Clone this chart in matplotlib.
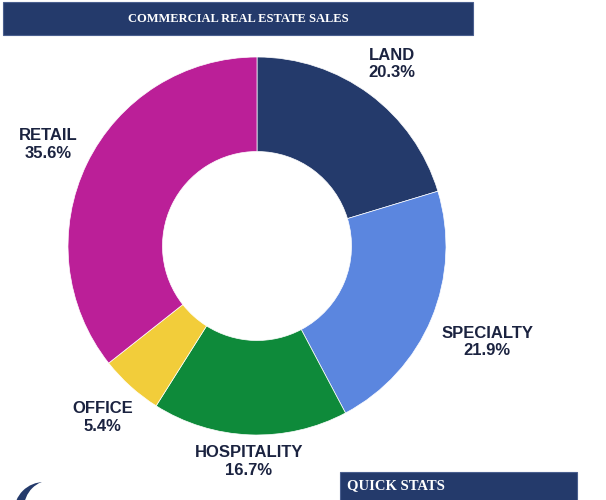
import numpy as np
import matplotlib
matplotlib.use("Agg")
import matplotlib.pyplot as plt
from matplotlib.patches import Rectangle, Circle

categories = ["LAND", "SPECIALTY", "HOSPITALITY", "OFFICE", "RETAIL"]
shares = [20.3, 21.9, 16.7, 5.4, 35.6]
colors = ["#243A6B", "#5B86DF", "#0E8A3A", "#F2CD3A", "#BB1F98"]
label_dist = [1.20, 1.32, 1.14, 1.22, 1.23]

title = "COMMERCIAL REAL ESTATE SALES"
footer = "QUICK STATS"
navy = "#243A6B"
label_color = "#1B2340"

W, H = 606, 500
fig = plt.figure(figsize=(W / 100, H / 100), dpi=100)
fig.patch.set_facecolor("white")

# overlay axes in pixel coordinates
ov = fig.add_axes([0, 0, 1, 1])
ov.set_xlim(0, W)
ov.set_ylim(H, 0)
ov.axis("off")

# title banner
ov.add_patch(Rectangle((3, 2), 470, 33, facecolor=navy, edgecolor="#4A5F8F", linewidth=0.8, zorder=2))
ov.text(238, 19, title, color="white", fontsize=9, fontweight="bold",
        family="Liberation Serif", ha="center", va="center", zorder=3)

# quick stats box
ov.add_patch(Rectangle((340, 472), 237, 30, facecolor=navy, edgecolor="#4A5F8F", linewidth=0.8, zorder=2))
ov.text(347, 486, footer, color="white", fontsize=10.5, fontweight="bold",
        family="Liberation Serif", ha="left", va="center", zorder=3)

# crescent logo
ov.add_patch(Circle((44, 512), 30, facecolor=navy, edgecolor="none", zorder=2))
ov.add_patch(Circle((52, 508), 28, facecolor="white", edgecolor="none", zorder=2.5))

# donut
cx, cy, R = 257, 246, 189
pa = fig.add_axes([(cx - R) / W, (H - cy - R) / H, 2 * R / W, 2 * R / H])
wedges, _ = pa.pie(shares, colors=colors, startangle=90, counterclock=False,
                   wedgeprops=dict(width=0.5, edgecolor="white", linewidth=0.5))
pa.set_xlim(-1, 1)
pa.set_ylim(-1, 1)
pa.set_aspect("equal")
pa.axis("off")

total = sum(shares)
start = 90.0
for name, val, d in zip(categories, shares, label_dist):
    sweep = val / total * 360.0
    mid = np.deg2rad(start - sweep / 2)
    start -= sweep
    pa.text(d * np.cos(mid), d * np.sin(mid), f"{name}\n{val:.1f}%",
            ha="center", va="center", fontsize=12, fontweight="bold",
            family="Liberation Sans", color=label_color, linespacing=1.2,
            clip_on=False)

fig.savefig("out.png", dpi=100, facecolor="white")
